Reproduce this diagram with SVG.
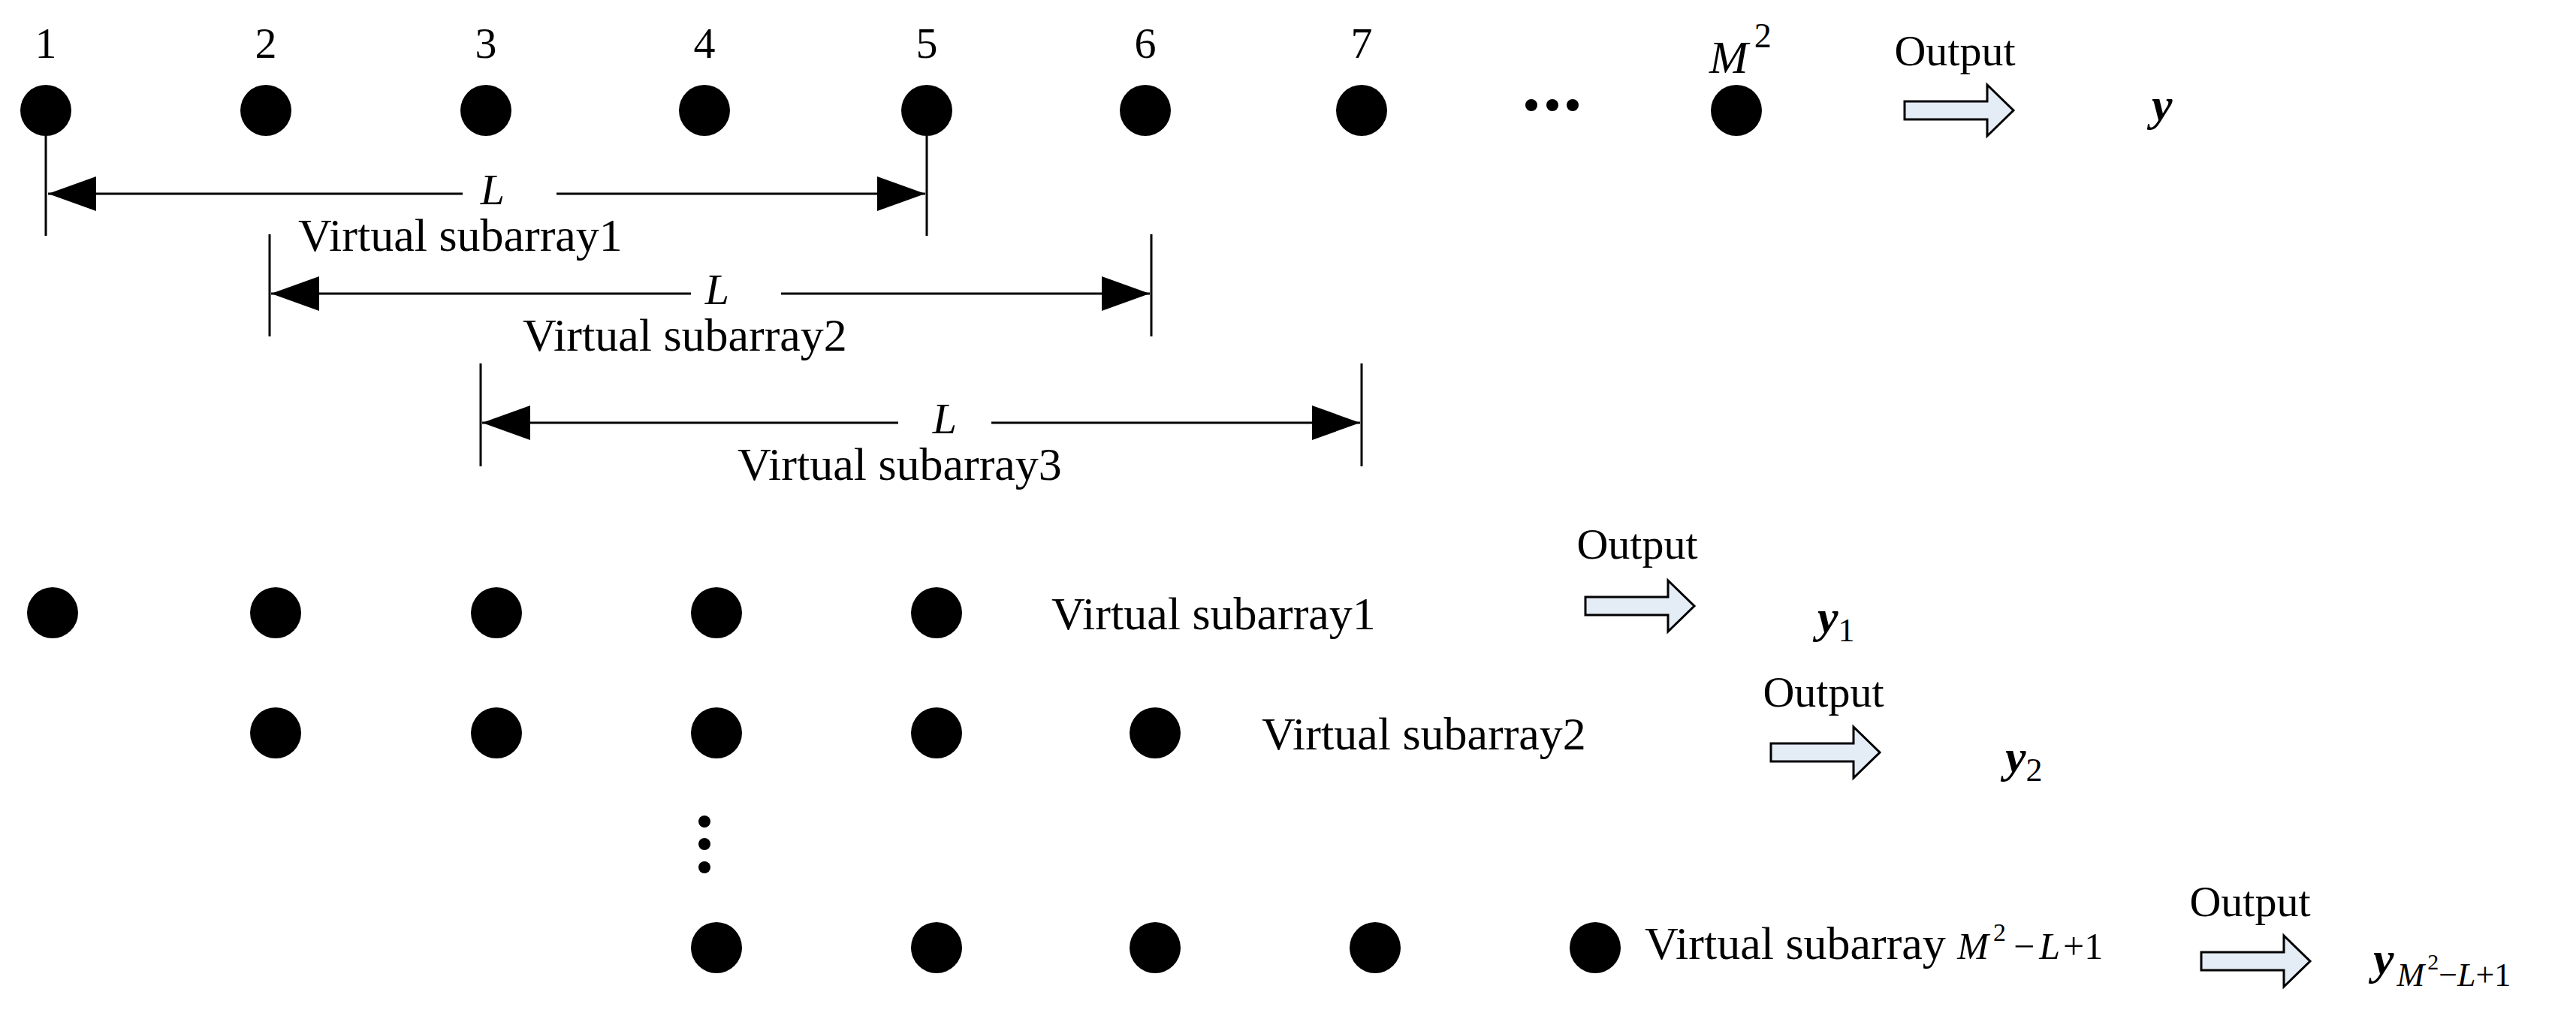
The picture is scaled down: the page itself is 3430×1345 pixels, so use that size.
<svg xmlns="http://www.w3.org/2000/svg" width="3430" height="1345" viewBox="0 0 3430 1345">
<style>
text{font-family:"Liberation Serif","Times New Roman",serif;fill:#000}
.n{font-size:58px}
.t{font-size:62px}
.o{font-size:58px}
.i{font-style:italic}
.b{font-weight:bold;font-style:italic}
.ln{stroke:#000;stroke-width:3;fill:none}
.ar{fill:#E4ECF6;stroke:#000;stroke-width:3}
</style>
<defs>
<marker id="ah" markerWidth="64" markerHeight="46" refX="64" refY="23" orient="auto-start-reverse" markerUnits="userSpaceOnUse"><path d="M0,0 L64,23 L0,46 Z" fill="#000"/></marker>
<path id="arr" d="M0,-12 H110 V-34 L145,0 L110,34 V12 H0 Z"/>
</defs>
<g id="top-row">
<text class="n" x="61" y="77" text-anchor="middle">1</text>
<text class="n" x="354" y="77" text-anchor="middle">2</text>
<text class="n" x="647" y="77" text-anchor="middle">3</text>
<text class="n" x="938" y="77" text-anchor="middle">4</text>
<text class="n" x="1234" y="77" text-anchor="middle">5</text>
<text class="n" x="1525" y="77" text-anchor="middle">6</text>
<text class="n" x="1813" y="77" text-anchor="middle">7</text>
<text x="2276" y="97" font-size="62" class="i">M<tspan dx="8" dy="-34" font-size="46" font-style="normal">2</tspan></text>
<circle cx="61" cy="147" r="34"/><circle cx="354" cy="147" r="34"/><circle cx="647" cy="147" r="34"/><circle cx="938" cy="147" r="34"/><circle cx="1234" cy="147" r="34"/><circle cx="1525" cy="147" r="34"/><circle cx="1813" cy="147" r="34"/>
<circle cx="2039" cy="140" r="8"/><circle cx="2067" cy="140" r="8"/><circle cx="2094" cy="140" r="8"/>
<circle cx="2312" cy="147" r="34"/>
<text class="o" x="2603" y="87" text-anchor="middle">Output</text>
<use href="#arr" class="ar" transform="translate(2536,147)"/>
<text class="b" x="2865" y="160" font-size="62">y</text>
</g>
<g id="connectors">
<line class="ln" x1="61" y1="181" x2="61" y2="314"/>
<line class="ln" x1="1234" y1="181" x2="1234" y2="314"/>
<line class="ln" x1="616" y1="258" x2="64" y2="258" marker-end="url(#ah)"/>
<line class="ln" x1="741" y1="258" x2="1232" y2="258" marker-end="url(#ah)"/>
<line class="ln" x1="359" y1="312" x2="359" y2="448"/>
<line class="ln" x1="1533" y1="312" x2="1533" y2="448"/>
<line class="ln" x1="920" y1="391" x2="361" y2="391" marker-end="url(#ah)"/>
<line class="ln" x1="1040" y1="391" x2="1531" y2="391" marker-end="url(#ah)"/>
<line class="ln" x1="640" y1="484" x2="640" y2="621"/>
<line class="ln" x1="1813" y1="484" x2="1813" y2="621"/>
<line class="ln" x1="1196" y1="563" x2="642" y2="563" marker-end="url(#ah)"/>
<line class="ln" x1="1320" y1="563" x2="1811" y2="563" marker-end="url(#ah)"/>
</g>
<g id="dim-labels">
<text class="i" font-size="58" x="656" y="272" text-anchor="middle">L</text>
<text class="t" x="397" y="334">Virtual subarray1</text>
<text class="i" font-size="58" x="955" y="405" text-anchor="middle">L</text>
<text class="t" x="696" y="467">Virtual subarray2</text>
<text class="i" font-size="58" x="1258" y="577" text-anchor="middle">L</text>
<text class="t" x="982" y="639">Virtual subarray3</text>
</g>
<g id="sub1">
<circle cx="70" cy="816" r="34"/><circle cx="367" cy="816" r="34"/><circle cx="661" cy="816" r="34"/><circle cx="954" cy="816" r="34"/><circle cx="1247" cy="816" r="34"/>
<text class="t" x="1400" y="838">Virtual subarray1</text>
<text class="o" x="2180" y="744" text-anchor="middle">Output</text>
<use href="#arr" class="ar" transform="translate(2111,807)"/>
<text class="b" x="2420" y="842" font-size="62">y<tspan font-weight="normal" font-style="normal" font-size="44" dy="12">1</tspan></text>
</g>
<g id="sub2">
<circle cx="367" cy="976" r="34"/><circle cx="661" cy="976" r="34"/><circle cx="954" cy="976" r="34"/><circle cx="1247" cy="976" r="34"/><circle cx="1538" cy="976" r="34"/>
<text class="t" x="1680" y="998">Virtual subarray2</text>
<text class="o" x="2428" y="941" text-anchor="middle">Output</text>
<use href="#arr" class="ar" transform="translate(2358,1002)"/>
<text class="b" x="2670" y="1028" font-size="62">y<tspan font-weight="normal" font-style="normal" font-size="44" dy="12">2</tspan></text>
</g>
<g id="vdots">
<circle cx="938" cy="1094" r="8"/><circle cx="938" cy="1124" r="8"/><circle cx="938" cy="1155" r="8"/>
</g>
<g id="sub3">
<circle cx="954" cy="1262" r="34"/><circle cx="1247" cy="1262" r="34"/><circle cx="1538" cy="1262" r="34"/><circle cx="1831" cy="1262" r="34"/><circle cx="2124" cy="1262" r="34"/>
<text class="t" x="2190" y="1277">Virtual subarray <tspan class="i" font-size="50">M</tspan><tspan font-size="34" dx="6" dy="-24">2</tspan><tspan font-size="50" dx="10" dy="24">−</tspan><tspan class="i" font-size="50" dx="6">L</tspan><tspan font-size="50" dx="4">+1</tspan></text>
<text class="o" x="2996" y="1220" text-anchor="middle">Output</text>
<use href="#arr" class="ar" transform="translate(2931,1280)"/>
<text class="b" x="3160" y="1297" font-size="62">y<tspan font-weight="normal" font-size="44" dx="4" dy="16">M</tspan><tspan font-weight="normal" font-style="normal" font-size="30" dx="4" dy="-22">2</tspan><tspan font-weight="normal" font-style="normal" font-size="44" dy="22">−</tspan><tspan font-weight="normal" font-size="44">L</tspan><tspan font-weight="normal" font-style="normal" font-size="44">+1</tspan></text>
</g>
</svg>
